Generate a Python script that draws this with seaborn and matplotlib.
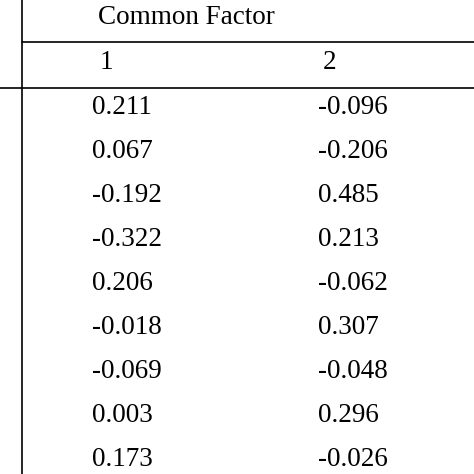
import matplotlib
matplotlib.use("Agg")
import matplotlib.pyplot as plt
import seaborn as sns

sns.set_style("white")
plt.rcParams['font.family'] = ['Liberation Serif', 'DejaVu Serif']
plt.rcParams['text.color'] = 'black'

header = "Common Factor"
factor_labels = ["1", "2"]
factor1 = ["0.211", "0.067", "-0.192", "-0.322", "0.206", "-0.018", "-0.069", "0.003", "0.173"]
factor2 = ["-0.096", "-0.206", "0.485", "0.213", "-0.062", "0.307", "-0.048", "0.296", "-0.026"]

fig = plt.figure(figsize=(4.74, 4.74), dpi=100)
ax = fig.add_axes([0, 0, 1, 1])
ax.set_xlim(0, 474)
ax.set_ylim(474, 0)
ax.axis("off")

fs = 19.5
ax.plot([22, 22], [0, 474], color="black", lw=1.2)
ax.plot([22, 474], [42, 42], color="black", lw=1.2)
ax.plot([0, 474], [88, 88], color="black", lw=1.2)

ax.text(98, 17, header, fontsize=fs, va="center", ha="left", color="black")
ax.text(100, 62, factor_labels[0], fontsize=fs, va="center", ha="left", color="black")
ax.text(323, 62, factor_labels[1], fontsize=fs, va="center", ha="left", color="black")

for i, (a, b) in enumerate(zip(factor1, factor2)):
    y = 107 + 44 * i
    ax.text(92, y, a, fontsize=fs, va="center", ha="left", color="black")
    ax.text(318, y, b, fontsize=fs, va="center", ha="left", color="black")

fig.savefig("out.png", dpi=100)
